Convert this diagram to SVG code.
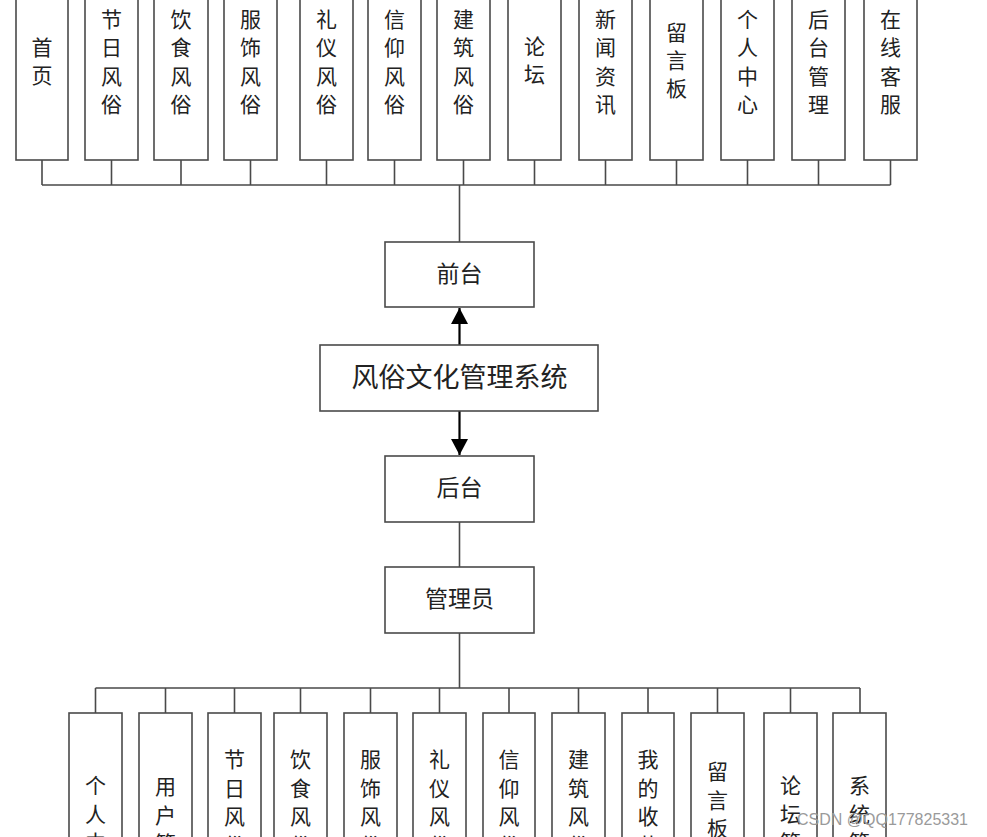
<svg xmlns="http://www.w3.org/2000/svg" width="987" height="837" viewBox="0 0 987 837">
<defs>
<style>
.box{fill:#fff;stroke:#4a4a4a;stroke-width:1.6}
.ln{fill:none;stroke:#4a4a4a;stroke-width:1.6}
.ar{fill:none;stroke:#000;stroke-width:2.2}
.t{font-family:"Noto Sans CJK SC","Liberation Sans",sans-serif;font-size:21px;fill:#222;text-anchor:middle}
.tm{font-family:"Noto Sans CJK SC","Liberation Sans",sans-serif;font-size:23px;fill:#222;text-anchor:middle}
.ts{font-family:"Noto Sans CJK SC","Liberation Sans",sans-serif;font-size:27px;fill:#222;text-anchor:middle}
.wm{font-family:"Liberation Sans",Arial,sans-serif;font-size:16px;fill:#9a9a9a}
</style>
<marker id="ah" viewBox="0 0 16 17" refX="16" refY="8.5" markerWidth="16" markerHeight="17" markerUnits="userSpaceOnUse" orient="auto">
<path d="M0,0 L16,8.5 L0,17 Z" fill="#000"/>
</marker>
</defs>
<rect width="987" height="837" fill="#fff"/>

<g id="connectors">
<path class="ln" d="M42,160V185M111.5,160V185M181,160V185M250.5,160V185M326.5,160V185M394.5,160V185M463.5,160V185M534.5,160V185M605.5,160V185M676.5,160V185M747.5,160V185M818.5,160V185M890.5,160V185M42,185H890.5M459.5,185V242"/>
<path class="ar" d="M459.5,345V308" marker-end="url(#ah)"/>
<path class="ar" d="M459.5,411V455" marker-end="url(#ah)"/>
<path class="ln" d="M459.5,522V567M459.5,633V688M95.5,688H860M95.5,688V713M165.5,688V713M234.5,688V713M300.5,688V713M370.5,688V713M439.5,688V713M509,688V713M578.5,688V713M648,688V713M717.5,688V713M790.5,688V713M860,688V713"/>
</g>

<g id="top-1"><rect class="box" x="16" y="-40" width="52" height="200"/><text class="t"><tspan x="42" y="55">首</tspan><tspan x="42" y="83">页</tspan></text></g>
<g id="top-2"><rect class="box" x="85" y="-40" width="53" height="200"/><text class="t"><tspan x="111.5" y="26.5">节</tspan><tspan x="111.5" y="55">日</tspan><tspan x="111.5" y="83.5">风</tspan><tspan x="111.5" y="112">俗</tspan></text></g>
<g id="top-3"><rect class="box" x="154" y="-40" width="54" height="200"/><text class="t"><tspan x="181" y="26.5">饮</tspan><tspan x="181" y="55">食</tspan><tspan x="181" y="83.5">风</tspan><tspan x="181" y="112">俗</tspan></text></g>
<g id="top-4"><rect class="box" x="224" y="-40" width="53" height="200"/><text class="t"><tspan x="250.5" y="26.5">服</tspan><tspan x="250.5" y="55">饰</tspan><tspan x="250.5" y="83.5">风</tspan><tspan x="250.5" y="112">俗</tspan></text></g>
<g id="top-5"><rect class="box" x="300" y="-40" width="53" height="200"/><text class="t"><tspan x="326.5" y="26.5">礼</tspan><tspan x="326.5" y="55">仪</tspan><tspan x="326.5" y="83.5">风</tspan><tspan x="326.5" y="112">俗</tspan></text></g>
<g id="top-6"><rect class="box" x="368" y="-40" width="53" height="200"/><text class="t"><tspan x="394.5" y="26.5">信</tspan><tspan x="394.5" y="55">仰</tspan><tspan x="394.5" y="83.5">风</tspan><tspan x="394.5" y="112">俗</tspan></text></g>
<g id="top-7"><rect class="box" x="437" y="-40" width="53" height="200"/><text class="t"><tspan x="463.5" y="26.5">建</tspan><tspan x="463.5" y="55">筑</tspan><tspan x="463.5" y="83.5">风</tspan><tspan x="463.5" y="112">俗</tspan></text></g>
<g id="top-8"><rect class="box" x="508" y="-40" width="53" height="200"/><text class="t"><tspan x="534.5" y="54">论</tspan><tspan x="534.5" y="82">坛</tspan></text></g>
<g id="top-9"><rect class="box" x="579" y="-40" width="53" height="200"/><text class="t"><tspan x="605.5" y="26.5">新</tspan><tspan x="605.5" y="55">闻</tspan><tspan x="605.5" y="83.5">资</tspan><tspan x="605.5" y="112">讯</tspan></text></g>
<g id="top-10"><rect class="box" x="650" y="-40" width="53" height="200"/><text class="t"><tspan x="676.5" y="40">留</tspan><tspan x="676.5" y="68">言</tspan><tspan x="676.5" y="96">板</tspan></text></g>
<g id="top-11"><rect class="box" x="721" y="-40" width="53" height="200"/><text class="t"><tspan x="747.5" y="26.5">个</tspan><tspan x="747.5" y="55">人</tspan><tspan x="747.5" y="83.5">中</tspan><tspan x="747.5" y="112">心</tspan></text></g>
<g id="top-12"><rect class="box" x="792" y="-40" width="53" height="200"/><text class="t"><tspan x="818.5" y="26.5">后</tspan><tspan x="818.5" y="55">台</tspan><tspan x="818.5" y="83.5">管</tspan><tspan x="818.5" y="112">理</tspan></text></g>
<g id="top-13"><rect class="box" x="864" y="-40" width="53" height="200"/><text class="t"><tspan x="890.5" y="26.5">在</tspan><tspan x="890.5" y="55">线</tspan><tspan x="890.5" y="83.5">客</tspan><tspan x="890.5" y="112">服</tspan></text></g>

<g id="qiantai"><rect class="box" x="385" y="242" width="149" height="65"/><text class="tm" x="459.5" y="282">前台</text></g>
<g id="system"><rect class="box" x="320" y="345" width="278" height="66"/><text class="ts" x="459.5" y="387">风俗文化管理系统</text></g>
<g id="houtai"><rect class="box" x="385" y="456" width="149" height="66"/><text class="tm" x="459.5" y="496">后台</text></g>
<g id="admin"><rect class="box" x="385" y="567" width="149" height="66"/><text class="tm" x="459.5" y="607">管理员</text></g>

<g id="bot-1"><rect class="box" x="69" y="713" width="53" height="200"/><text class="t"><tspan x="95.5" y="793">个</tspan><tspan x="95.5" y="821.5">人</tspan><tspan x="95.5" y="850">中</tspan><tspan x="95.5" y="878.5">心</tspan></text></g>
<g id="bot-2"><rect class="box" x="139" y="713" width="53" height="200"/><text class="t"><tspan x="165.5" y="794">用</tspan><tspan x="165.5" y="822.5">户</tspan><tspan x="165.5" y="851">管</tspan><tspan x="165.5" y="879.5">理</tspan></text></g>
<g id="bot-3"><rect class="box" x="208" y="713" width="53" height="200"/><text class="t"><tspan x="234.5" y="767">节</tspan><tspan x="234.5" y="795.5">日</tspan><tspan x="234.5" y="824">风</tspan><tspan x="234.5" y="852.5">俗</tspan></text></g>
<g id="bot-4"><rect class="box" x="274" y="713" width="53" height="200"/><text class="t"><tspan x="300.5" y="767">饮</tspan><tspan x="300.5" y="795.5">食</tspan><tspan x="300.5" y="824">风</tspan><tspan x="300.5" y="852.5">俗</tspan></text></g>
<g id="bot-5"><rect class="box" x="344" y="713" width="53" height="200"/><text class="t"><tspan x="370.5" y="767">服</tspan><tspan x="370.5" y="795.5">饰</tspan><tspan x="370.5" y="824">风</tspan><tspan x="370.5" y="852.5">俗</tspan></text></g>
<g id="bot-6"><rect class="box" x="413" y="713" width="53" height="200"/><text class="t"><tspan x="439.5" y="767">礼</tspan><tspan x="439.5" y="795.5">仪</tspan><tspan x="439.5" y="824">风</tspan><tspan x="439.5" y="852.5">俗</tspan></text></g>
<g id="bot-7"><rect class="box" x="483" y="713" width="52" height="200"/><text class="t"><tspan x="509" y="767">信</tspan><tspan x="509" y="795.5">仰</tspan><tspan x="509" y="824">风</tspan><tspan x="509" y="852.5">俗</tspan></text></g>
<g id="bot-8"><rect class="box" x="552" y="713" width="53" height="200"/><text class="t"><tspan x="578.5" y="767">建</tspan><tspan x="578.5" y="795.5">筑</tspan><tspan x="578.5" y="824">风</tspan><tspan x="578.5" y="852.5">俗</tspan></text></g>
<g id="bot-9"><rect class="box" x="622" y="713" width="52" height="200"/><text class="t"><tspan x="648" y="767">我</tspan><tspan x="648" y="795.5">的</tspan><tspan x="648" y="824">收</tspan><tspan x="648" y="852.5">藏</tspan></text></g>
<g id="bot-10"><rect class="box" x="691" y="713" width="53" height="200"/><text class="t"><tspan x="717.5" y="779">留</tspan><tspan x="717.5" y="807.5">言</tspan><tspan x="717.5" y="836">板</tspan></text></g>
<g id="bot-11"><rect class="box" x="764" y="713" width="53" height="200"/><text class="t"><tspan x="790.5" y="793">论</tspan><tspan x="790.5" y="821.5">坛</tspan><tspan x="790.5" y="850">管</tspan><tspan x="790.5" y="878.5">理</tspan></text></g>
<g id="bot-12"><rect class="box" x="833" y="713" width="53" height="200"/><text class="t"><tspan x="859.5" y="793">系</tspan><tspan x="859.5" y="821.5">统</tspan><tspan x="859.5" y="850">管</tspan><tspan x="859.5" y="878.5">理</tspan></text></g>

<text class="wm" x="797" y="825">CSDN @QQ177825331</text>
</svg>
